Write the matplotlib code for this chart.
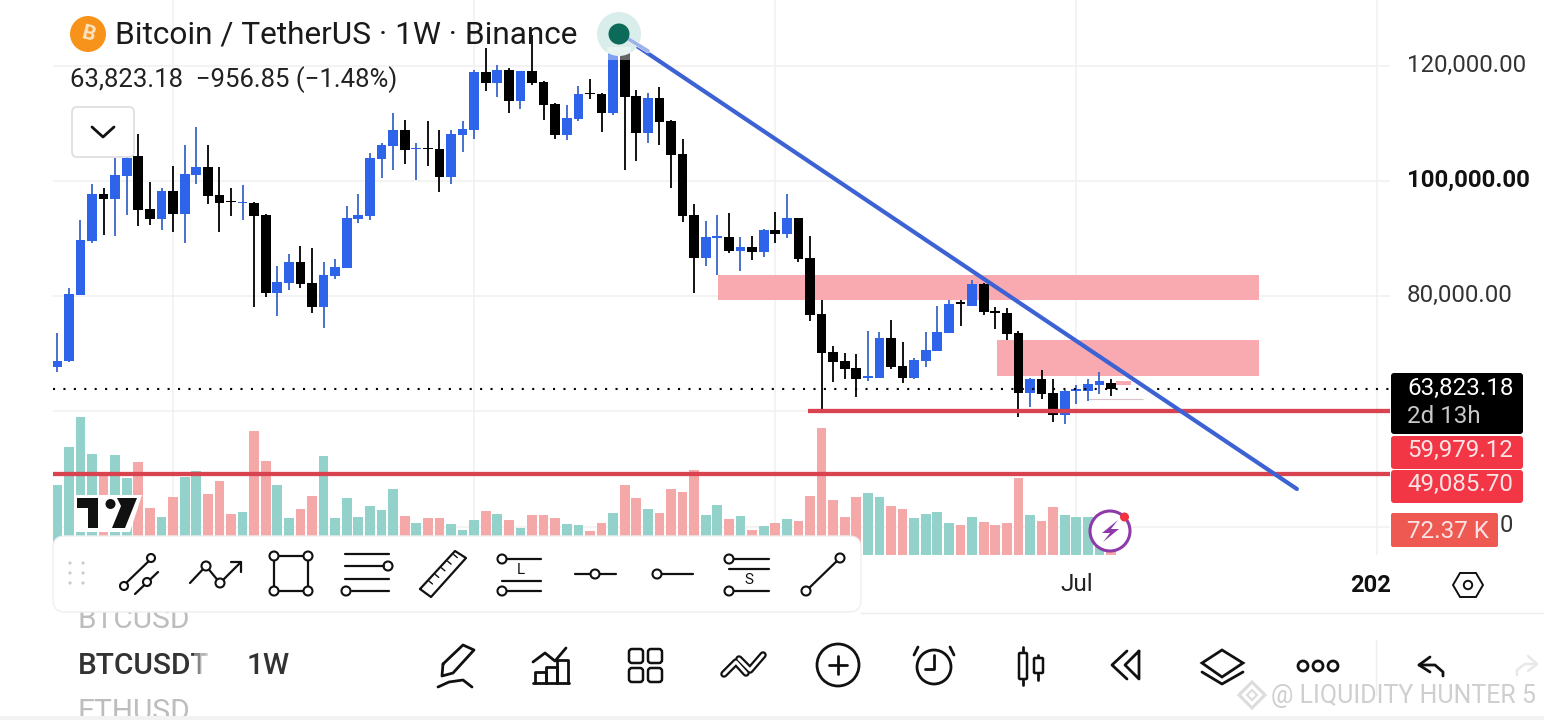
#!/usr/bin/env python
"""BTCUSDT weekly candles with drawings, redrawn from a phone screenshot."""

import matplotlib
matplotlib.use("Agg")
import matplotlib.pyplot as plt
from matplotlib.patches import Circle, FancyBboxPatch, Polygon, Rectangle
from matplotlib.transforms import ScaledTranslation

plt.rcParams["font.family"] = ["Roboto", "DejaVu Sans"]

W, H = 1544, 720

highs = [73560, 81390, 93220, 99490, 98790, 104010, 105060, 108190, 99840, 98790, 102620, 106270, 109410, 106270, 102450, 98790,
         99310, 96360, 94270, 85220, 87310, 88700, 88350, 85920, 86440, 95660, 97750, 104880, 106620, 111840, 110620, 106620,
         110450, 108880, 108880, 110450, 119320, 123150, 120190, 119670, 119150, 125410, 117410, 113580, 113230, 116540, 117760, 115320,
         123330, 123330, 115840, 115320, 116370, 110620, 107320, 96010, 93050, 94090, 94440, 90270, 90440, 91660, 94620, 97750,
         93570, 90440, 79300, 71300, 70080, 69910, 73910, 73740, 75820, 72000, 69210, 73740, 78260, 79300, 79300, 82780,
         82260, 78090, 77910, 73910, 65730, 67120, 65560, 63640, 64510, 65560, 66780, 65560]
opens = [67650, 68690, 80170, 89570, 97750, 96880, 100880, 104360, 95140, 93400, 98270, 94270, 101050, 102450, 97570, 96530,
         96180, 96180, 94090, 80520, 82260, 85920, 82260, 78090, 83480, 84870, 93400, 93920, 103840, 106100, 108880, 105580,
         105750, 105580, 100710, 108010, 108880, 118980, 117060, 119320, 113930, 119150, 117240, 113410, 108010, 110800, 115320, 115150,
         111840, 123330, 114800, 108360, 114450, 110450, 104710, 94090, 86610, 90090, 90270, 87830, 88530, 87660, 91480, 90790,
         93570, 86610, 76870, 70260, 68690, 67470, 65730, 65730, 72690, 67820, 65730, 68690, 70430, 73560, 78960, 78260,
         82090, 77390, 77040, 73560, 63120, 65560, 63120, 59290, 63470, 63470, 64510, 64780.03]
lows = [66780, 68520, 80170, 89220, 90610, 90440, 94090, 92180, 92350, 91480, 91140, 89220, 99490, 96010, 91140, 93920,
        93220, 78090, 79830, 76520, 81040, 81390, 77040, 74430, 82960, 84870, 92700, 93220, 100530, 101920, 102970, 100180,
        102620, 98100, 99490, 105060, 107320, 115670, 114630, 111840, 112540, 116710, 110620, 107320, 107140, 110450, 114280, 108540,
        111490, 101920, 103490, 106620, 106270, 98790, 92880, 80520, 85220, 83650, 87480, 84350, 86260, 86790, 89220, 90090,
        85920, 75650, 59820, 65040, 65560, 62430, 65210, 65730, 67300, 64860, 65560, 67650, 70430, 73560, 74780, 78260,
        76690, 74260, 72340, 58950, 60690, 62080, 58080, 57730, 61210, 61730, 62950, 62600]
closes = [68690, 80350, 89740, 97750, 96880, 101050, 104010, 94960, 93400, 98270, 94270, 101230, 102450, 97400, 96180, 96360,
          96360, 93920, 80520, 82440, 85920, 82090, 78090, 83650, 85050, 93570, 94090, 104010, 106270, 108880, 105400, 105750,
          105580, 100710, 108190, 109060, 118980, 117060, 119320, 113930, 119150, 117060, 113230, 108010, 110970, 115150, 115150, 111840,
          123330, 114630, 108360, 114450, 110280, 104530, 93920, 86610, 90270, 90440, 87830, 88530, 87660, 91480, 90790, 93570,
          86440, 76690, 70080, 68520, 67300, 65560, 66080, 72690, 67650, 65730, 68860, 70600, 73740, 78610, 78610, 82090,
          77220, 77040, 73390, 63120, 65560, 62950, 59290, 63470, 63820, 64690, 65210, 63823.18]
volumes_k = [210, 324, 414, 303, 243, 300, 231, 279, 141, 114, 174, 234, 252, 183, 222, 123,
             129, 372, 282, 210, 111, 138, 177, 297, 111, 171, 114, 147, 135, 198, 117, 96,
             111, 111, 93, 75, 105, 132, 123, 105, 81, 120, 120, 111, 93, 90, 72, 96,
             126, 210, 171, 138, 126, 198, 189, 255, 120, 150, 108, 117, 75, 87, 96, 108,
             102, 177, 381, 165, 114, 174, 186, 174, 147, 138, 111, 123, 129, 96, 90, 114,
             99, 90, 96, 231, 120, 102, 144, 120, 114, 114, 105, 72.37]

price_ticks = [60000, 80000, 100000, 120000]
price_labels = ["", "80,000.00", "100,000.00", "120,000.00"]
week_ticks = [10, 36, 62, 88, 114]
week_labels = ["", "", "", "Jul", ""]

last_price = 63823.18
support_levels = [59979.12, 49085.70]
support_starts = [64.8, -0.4]
zone_lo = [79300, 66080, 64510]
zone_hi = [83650, 72340, 65210]
zone_start = [57.1, 81.15, 91.4]
zone_end = [103.8, 103.8, 92.7]
trend_x = [48.5, 107.05]
trend_y = [125590, 46420]

UP, DOWN = "#2d64ea", "#000000"
UP_WICK = "#3a66c8"
VOL_UP, VOL_DOWN = "#93d2cb", "#f5a8a8"
GRID = "#f1f1f1"
RED_LINE = "#d9434f"

fig = plt.figure(figsize=(W / 100, H / 100), dpi=100, facecolor="white")
rect = [53 / W, (H - 555) / H, (1390 - 53) / W, 555 / H]
xlim = (-0.37, 115.09)

# volume sits at the bottom, it carries the vertical grid too
vax = fig.add_axes(rect, zorder=1)
idx = list(range(len(opens)))
vol_cols = [VOL_UP if c > o else VOL_DOWN for o, c in zip(opens, closes)]
vax.bar(idx, volumes_k, width=0.84, color=vol_cols, zorder=2)
vax.set_xlim(*xlim)
vax.set_ylim(0, 1665)
vax.set_xticks(week_ticks, week_labels)
vax.set_yticks([84])
vax.set_yticklabels([""])
vax.grid(color=GRID, lw=1.2, zorder=0)
vax.set_axisbelow(True)
vax.tick_params(length=0, pad=13, labelsize=17.5, labelcolor="#222222")
for s in vax.spines.values():
    s.set_visible(False)

ax = fig.add_axes(rect, zorder=2)
ax.patch.set_alpha(0)
ax.set_xlim(*xlim)
ax.set_ylim(80000 + (296 - 555) * 174, 80000 + 296 * 174)
ax.set_xticks([])
ax.yaxis.tick_right()
ax.set_yticks(price_ticks, price_labels)
ax.set_axisbelow(True)
ax.grid(axis="y", color=GRID, lw=1.2)
ax.tick_params(length=0, pad=12, labelsize=17.3, labelcolor="#333333")
nudge = ScaledTranslation(0, 2 / 72, fig.dpi_scale_trans)
for lab in ax.get_yticklabels():
    lab.set_transform(lab.get_transform() + nudge)
ax.get_yticklabels()[2].set_fontweight("bold")
ax.get_yticklabels()[2].set_color("#111111")
for s in ax.spines.values():
    s.set_visible(False)

for lo, hi, a, b in zip(zone_lo, zone_hi, zone_start, zone_end):
    ax.fill_between([a, b], lo, hi, color="#f9a9b0", lw=0, zorder=1)
ax.hlines(62080, 89, 93.75, color="#d8c4c8", lw=0.8, zorder=1)

for i, (o, h, l, c) in enumerate(zip(opens, highs, lows, closes)):
    ax.vlines(i, l, h, color=UP_WICK if c > o else DOWN, lw=1.3, zorder=3)
    ax.bar(i, abs(c - o), bottom=min(o, c), width=0.84, color=UP if c > o else DOWN, zorder=4)

ax.hlines(last_price, xlim[0], xlim[1], color="black", lw=1.5, linestyles=(0, (1, 4)), zorder=5)
for lev, start in zip(support_levels, support_starts):
    ax.hlines(lev, start, xlim[1], color=RED_LINE, lw=3.1, zorder=6)
ax.plot(trend_x, trend_y, color="#3c62d4", lw=3, solid_capstyle="round", zorder=7)

# everything else is app chrome, placed in screen pixels
ui = fig.add_axes([0, 0, 1, 1], zorder=3)
ui.set_xlim(0, W)
ui.set_ylim(H, 0)
ui.axis("off")
INK = "#111111"


def line(pts, color=INK, lw=1.6, z=12):
    ui.plot([p[0] for p in pts], [p[1] for p in pts], color=color, lw=lw, zorder=z,
            solid_capstyle="round", solid_joinstyle="round")


def dot(x, y, r=5, fc="white", ec=INK, lw=1.5, z=11):
    ui.add_patch(Circle((x, y), r, fc=fc, ec=ec, lw=lw, zorder=z))


def box(x0, y0, x1, y1, fc, r=3, ec="none", lw=0, z=9, **kw):
    ui.add_patch(FancyBboxPatch((x0 + r, y0 + r), x1 - x0 - 2 * r, y1 - y0 - 2 * r,
                                boxstyle=f"round,pad={r},rounding_size={r}", fc=fc, ec=ec, lw=lw, zorder=z, **kw))


def label(x, y, s, size, color=INK, ha="left", weight="normal", z=12):
    ui.text(x, y + 1.5, s, fontsize=size, color=color, ha=ha, va="center", fontweight=weight, zorder=z)


# legend
ui.add_patch(Rectangle((607, 47), 24, 13, fc="white", alpha=0.4, lw=0, zorder=8))
line([(622, 35), (648, 51)], color="white", lw=3.2, z=8)
line([(622, 35), (648, 51)], color="#9db1ea", lw=2.6, z=8)
dot(619, 34, r=22, fc="#d9edea", ec="none", lw=0, z=7)
dot(619, 34, r=10.5, fc="#0b6b58", ec="none", lw=0, z=9)
dot(88, 34, r=18, fc="#f7931a", ec="none", lw=0)
ui.text(88, 34, "B", fontsize=15, color="#fde3c0", ha="center", va="center", fontweight="bold", rotation=-14, zorder=12)
label(115, 33, "Bitcoin / TetherUS · 1W · Binance", 22.8, color="#1a1a1a")
label(70, 78, "63,823.18  \u2212956.85 (\u22121.48%)", 18.5, color="#222222")
box(72, 107, 134, 157, fc="white", r=5, ec="#dddddd", lw=1.2)
line([(92, 127), (103, 137), (114, 127)], lw=2)

# price tags
box(1391, 373, 1523, 434, fc="black", r=3)
label(1407, 387, "63,823.18", 17.4, color="white")
label(1407, 415, "2d 13h", 17.4, color="#c8c8c8")
box(1391, 436, 1523, 469, fc="#f23645", r=3)
label(1407, 449, "59,979.12", 17.4, color="#fbe3e5")
box(1391, 470, 1523, 503, fc="#f23645", r=3)
label(1407, 483, "49,085.70", 17.4, color="#fbe3e5")
box(1391, 513, 1498, 547, fc="#ee5a52", r=2)
label(1407, 530, "72.37 K", 17.4, color="#fbe3e5")
label(1500, 524, "0", 17, color="#333333")
label(1350, 584, "202", 17, weight="bold")
ui.add_patch(Polygon([(1453, 585), (1460, 573), (1476, 573), (1483, 585), (1476, 597), (1460, 597)],
                     fc="white", ec=INK, lw=1.4, zorder=10))
dot(1468, 585, r=4.2, lw=1.4)
line([(861, 613), (W, 613)], color="#eeeeee", lw=1, z=2)
ui.add_patch(Rectangle((0, 716), W, 4, fc="#f2f2f2", lw=0, zorder=2))
line([(1376, 640), (1376, 695)], color="#eeeeee", lw=1, z=2)

# tradingview mark and the lightning badge
ui.add_patch(Polygon([(74, 495), (142, 495), (130, 532), (74, 532)], fc="white", lw=0, zorder=6))
ui.add_patch(Polygon([(77, 498), (98, 498), (98, 528), (87.5, 528), (87.5, 508), (77, 508)], fc="#111111", lw=0, zorder=7))
dot(110.5, 504, r=5, fc="#111111", ec="none", lw=0, z=7)
ui.add_patch(Polygon([(117, 498), (137, 498), (125, 528), (112, 528), (121, 506)], fc="#111111", lw=0, zorder=7))
dot(1110, 531, r=20, fc="white", ec="#8e3aa8", lw=2.2, z=6)
ui.add_patch(Polygon([(1118, 520), (1102, 533), (1110, 533), (1103, 542), (1119, 529), (1111, 529)], fc="#8e3aa8", lw=0, zorder=7))
dot(1124.5, 517, r=4.5, fc="#ef3340", ec="none", lw=0, z=8)

# drawing toolbar
label(78, 618, "BTCUSD", 21.5, color="#bdbdbd", z=3)
box(53, 536, 861, 612, fc="white", r=12, ec="#efefef", lw=1, z=5)
for gx in (70, 83):
    for gy in (563, 573, 583):
        dot(gx, gy, r=1.6, fc="#cccccc", ec="none", lw=0)
line([(124, 585), (152, 558)], z=10); dot(124, 586, r=4); dot(151, 558, r=4)
line([(135, 594), (158, 572)], z=10); dot(147, 582, r=4)
line([(190, 583), (206, 566), (220, 583), (241, 562)], z=10); line([(231, 562), (241, 562), (241, 572)])
dot(206, 566, r=4.5); dot(220, 583, r=4.5)
line([(274, 556), (308, 556), (308, 591), (274, 591), (274, 556)], z=10)
for cx, cy in ((274, 556), (308, 556), (274, 591), (308, 591)):
    dot(cx, cy, r=4.5)
line([(345, 554), (389, 554)]); line([(345, 566), (384, 566)]); line([(345, 579), (389, 579)]); line([(352, 591), (389, 591)])
dot(388, 566, r=4.5); dot(346, 591, r=4.5)
line([(420, 589), (455, 551), (466, 558), (431, 597), (420, 589)])
for k in range(5):
    tx, ty = 429 + k * 6.2, 581 - k * 6.6
    line([(tx, ty), (tx + 3.5, ty + 3)], lw=1)
line([(507, 559), (541, 559)]); line([(502, 581), (541, 581)]); line([(507, 591), (541, 591)])
dot(502, 559, r=4.5); dot(502, 591, r=4.5)
label(521, 569, "L", 11, ha="center")
line([(575, 574), (616, 574)], z=10); dot(595, 574, r=4.5)
line([(657, 574), (693, 574)], z=10); dot(657, 574, r=4.5)
line([(734, 559), (769, 559)]); line([(729, 569), (769, 569)]); line([(734, 591), (769, 591)])
dot(729, 559, r=4.5); dot(729, 591, r=4.5)
label(749, 579, "S", 11, ha="center")
line([(806, 591), (840, 558)], z=10); dot(806, 591, r=4.5); dot(840, 558, r=4.5)

# bottom bar
label(78, 665, "BTCUSDT", 21.5, color="#333333", weight="medium")
for k in range(3):
    ui.add_patch(Rectangle((194 + k * 6, 650), 24, 32, fc="white", alpha=0.4, lw=0, zorder=13))
label(247, 665, "1W", 21.5, color="#333333", weight="medium")
label(78, 711, "ETHUSD", 21.5, color="#bdbdbd", z=1)

line([(443, 664), (463, 645), (474, 650), (453, 673), (442, 676), (443, 664)], lw=2)
line([(438, 687), (449, 682), (463, 680), (472, 687)], lw=2)
line([(533, 662), (545, 653), (555, 661), (566, 648)], lw=2)
for bx, by in ((535, 672), (546, 667), (557, 660)):
    line([(bx, 683), (bx, by), (bx + 11, by), (bx + 11, 683)], lw=2)
line([(533, 683), (569, 683)], lw=2)
for gx, gy in ((629, 649), (648, 649), (629, 668), (648, 668)):
    box(gx, gy, gx + 14, gy + 14, fc="white", r=3, ec=INK, lw=1.8, z=10)
for chev in ([(724, 674), (736, 662), (746, 673)], [(739, 659), (750, 670), (763, 655)]):
    line(chev, lw=5.4)
    line(chev, color="white", lw=2.2, z=13)
dot(838, 665, r=21, lw=2)
line([(829, 665), (847, 665)], lw=2); line([(838, 656), (838, 674)], lw=2)
dot(934, 667, r=17, lw=2)
line([(934, 655), (934, 669), (925, 669)], lw=2)
line([(914, 655), (918, 647)], lw=2); line([(954, 655), (950, 647)], lw=2)
line([(1023, 647), (1023, 685)], lw=2, z=10); box(1019, 653, 1027, 679, fc="white", r=1, ec=INK, lw=1.8, z=11)
line([(1038, 655), (1038, 680)], lw=2, z=10); box(1034, 658, 1043, 673, fc="white", r=1, ec=INK, lw=1.8, z=11)
line([(1127, 651), (1112, 665), (1127, 679)], lw=2)
line([(1139, 651), (1125, 665), (1139, 679), (1139, 651)], lw=2)
ui.add_patch(Polygon([(1222, 650), (1243, 663), (1222, 677), (1202, 663)], fc="white", ec=INK, lw=2, zorder=10))
line([(1202, 672), (1222, 684), (1243, 672)], lw=2)
for dx in (1303, 1318, 1333):
    dot(dx, 666, r=5, lw=2)
line([(1430, 657), (1419, 665), (1430, 672)], lw=2)
line([(1419, 665), (1435, 665), (1443, 672), (1443, 676)], lw=2)
line([(1517, 675), (1517, 670), (1525, 664), (1537, 664)], color="#e8e8e8", lw=1.8)
line([(1528, 656), (1537, 664), (1528, 671)], color="#e8e8e8", lw=1.8)

# watermark
ui.add_patch(Polygon([(1252, 682), (1265, 695), (1252, 708), (1239, 695)], fc="none", ec="#dcdcdc", lw=2.2, zorder=14))
ui.add_patch(Polygon([(1252, 690), (1257, 695), (1252, 700), (1247, 695)], fc="none", ec="#dcdcdc", lw=1.5, zorder=14))
label(1271, 694, "@ LIQUIDITY HUNTER 5", 18, color="#cfcfcf", z=14)

fig.savefig("out.png", dpi=100, facecolor="white")
